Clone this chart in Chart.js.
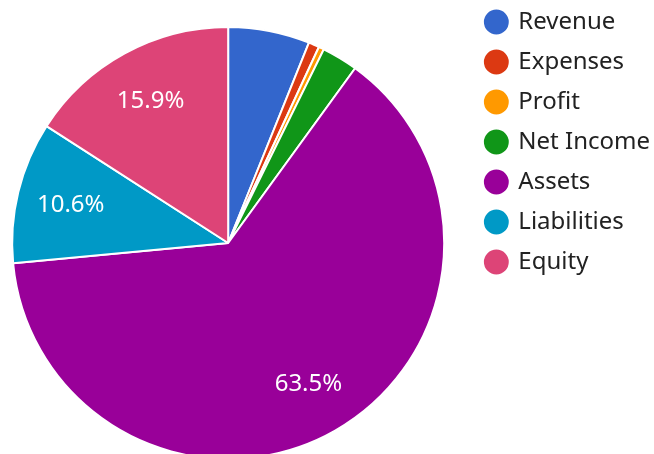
<!DOCTYPE html>
<html lang="en">
<head>
    <meta charset="UTF-8">
    <title>Financial Breakdown</title>
    <style>
        html, body {
            margin: 0;
            padding: 0;
            width: 654px;
            height: 454px;
            overflow: hidden;
            background: #ffffff;
        }
        #chartContainer {
            position: absolute;
            left: -14px;
            top: -6px;
            height: 466px;
        }
    </style>
</head>
<body>
    <div id="chartContainer">
        <canvas id="pieChart"></canvas>
    </div>
<script src="https://cdn.jsdelivr.net/npm/chart.js"></script>
<script>
    // chart data
    const categories = ['Revenue', 'Expenses', 'Profit', 'Net Income', 'Assets', 'Liabilities', 'Equity'];
    const shares = [6.1, 0.8, 0.4, 2.7, 63.5, 10.6, 15.9];
    const sliceColors = ['#3366cc', '#dc3912', '#ff9900', '#109618', '#990099', '#0099c6', '#dd4477'];

    const fontFamily = '"Noto Sans", "Open Sans", sans-serif';
    const fontSize = 24;

    // work out how wide the legend gets so the pie lands where it should
    const measure = document.createElement('canvas').getContext('2d');
    measure.font = fontSize + 'px ' + fontFamily;
    const widest = Math.max(...categories.map(c => measure.measureText(c).width));
    const legendWidth = 16 + 20 + fontSize / 2 + widest + 10;
    const canvasWidth = Math.round(484 + legendWidth);

    const container = document.getElementById('chartContainer');
    container.style.width = canvasWidth + 'px';

    // percentage text inside the bigger slices
    const sliceLabels = {
        id: 'sliceLabels',
        afterDatasetsDraw(chart) {
            const ctx = chart.ctx;
            const meta = chart.getDatasetMeta(0);
            const data = chart.data.datasets[0].data;
            const total = data.reduce((a, b) => a + b, 0);
            ctx.save();
            ctx.font = fontSize + 'px ' + fontFamily;
            ctx.fillStyle = '#ffffff';
            ctx.textAlign = 'center';
            ctx.textBaseline = 'middle';
            meta.data.forEach((arc, i) => {
                const pct = data[i] / total * 100;
                if (pct < 10) return;
                const p = arc.getProps(['x', 'y', 'startAngle', 'endAngle', 'outerRadius'], true);
                const mid = (p.startAngle + p.endAngle) / 2;
                const r = p.outerRadius * 0.75;
                ctx.fillText(pct.toFixed(1) + '%', p.x + Math.cos(mid) * r, p.y + Math.sin(mid) * r);
            });
            ctx.restore();
        }
    };

    new Chart(document.getElementById('pieChart'), {
        type: 'pie',
        data: {
            labels: categories,
            datasets: [{
                data: shares,
                backgroundColor: sliceColors,
                borderColor: '#ffffff',
                borderWidth: 2
            }]
        },
        options: {
            responsive: true,
            maintainAspectRatio: false,
            animation: false,
            layout: { padding: 0 },
            plugins: {
                tooltip: { enabled: false },
                title: {
                    display: true,
                    text: '',
                    font: { size: 10, lineHeight: 1 },
                    padding: { top: 22, bottom: 0 }
                },
                legend: {
                    position: 'right',
                    align: 'start',
                    labels: {
                        usePointStyle: true,
                        pointStyle: 'circle',
                        boxWidth: 20,
                        boxHeight: 19,
                        padding: 16,
                        color: '#222222',
                        font: { family: fontFamily, size: fontSize }
                    }
                }
            }
        },
        plugins: [sliceLabels]
    });
</script>
</body>
</html>
